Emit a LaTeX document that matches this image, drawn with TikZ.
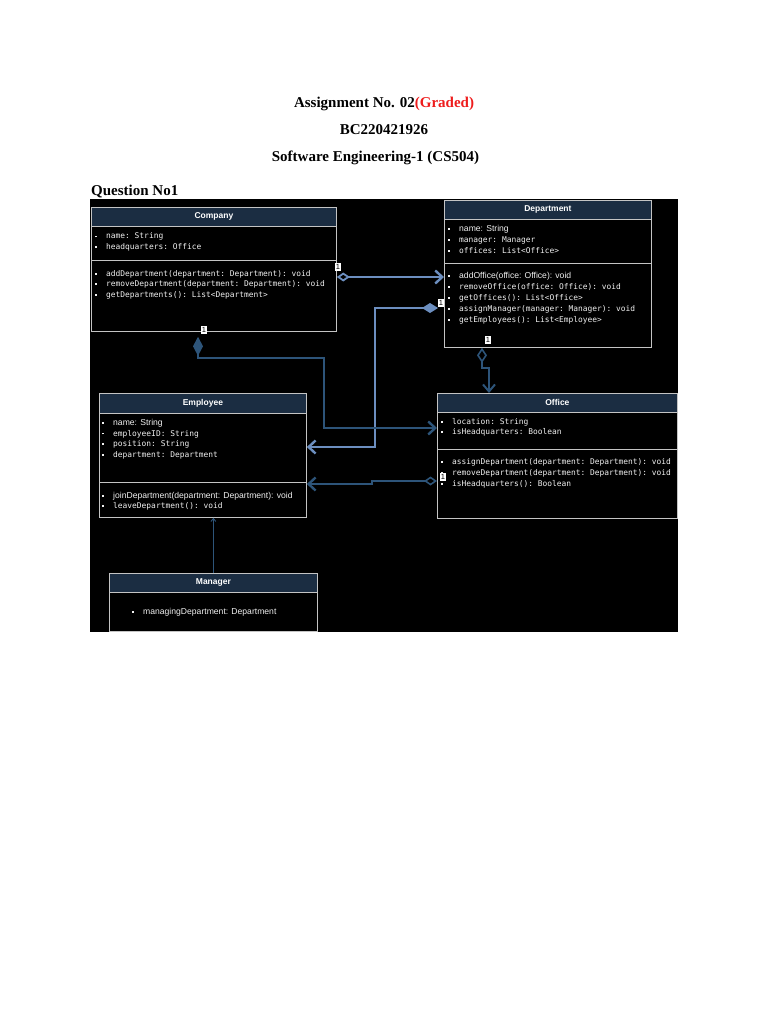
\documentclass[tikz,border=0pt]{standalone}
\usepackage{fontspec}
\setmainfont{Liberation Serif}
\setsansfont{Liberation Sans}
\setmonofont{DejaVu Sans Mono}
\usetikzlibrary{arrows.meta,positioning}

\definecolor{headblue}{HTML}{1B2D42}
\definecolor{linklight}{HTML}{6C8EBF}
\definecolor{linkdark}{HTML}{2D5479}
\definecolor{frameline}{HTML}{C4C4C4}
\definecolor{membertext}{HTML}{F0F0F0}
\definecolor{gradedred}{HTML}{EE1C1C}

% one line of a class compartment
\newcommand{\member}[1]{\makebox[11pt][l]{\raisebox{1.6pt}{\rule{1.7pt}{1.7pt}}}#1}
\newcommand{\sanspart}[1]{{\sffamily\fontsize{8.6}{10.5}\selectfont #1}}

\tikzset{
  classbox/.style={draw=frameline, line width=0.8pt, anchor=north west, inner sep=0pt},
  classhead/.style={classbox, fill=headblue, text=white,
    font=\sffamily\bfseries\fontsize{8.5}{10}\selectfont},
  members/.style={anchor=north west, align=left, inner sep=0pt, text=membertext,
    font=\ttfamily\fontsize{7.9}{10.5}\selectfont},
  divider/.style={draw=frameline, line width=0.8pt},
  mult/.style={fill=white, text=black, inner xsep=1pt, inner ysep=1.6pt,
    font=\sffamily\fontsize{7.5}{8}\selectfont},
  lightlink/.style={draw=linklight, line width=2.4pt},
  darklink/.style={draw=linkdark, line width=2.4pt},
  titletext/.style={inner sep=0pt, font=\bfseries\fontsize{15}{18}\selectfont},
}

\begin{document}
\begin{tikzpicture}[x=1pt, y=-1pt]
  \useasboundingbox[fill=white] (0,0) rectangle (768,1024);
  \node[titletext] (assignment) at (384,104) {Assignment No. 02\textcolor{gradedred}{(Graded)}};
  \node[titletext] (regno) at (384,130) {BC220421926};
  \node[titletext] (course) at (375.5,158) {Software Engineering-1 (CS504)};
  \node[titletext, anchor=west] (question) at (91,192) {Question No1};
  % diagram canvas
  \fill[black] (90,199) rectangle (678,632);

  % Company
  \node[classbox, minimum width=245pt, minimum height=124pt] (company) at (91,207) {};
  \node[classhead, minimum width=245pt, minimum height=19pt] (companyhead) at (company.north west) {Company};
  \draw[divider] (company.west |- 0,260) -- (company.east |- 0,260);
  \node[members] (companyattrs) at (95,232.7) {\member{name: String}\\
    \member{headquarters: Office}};
  \node[members] (companyops) at (95,270) {\member{addDepartment(department: Department): void}\\
    \member{removeDepartment(department: Department): void}\\
    \member{getDepartments(): List<Department>}};

  % Department
  \node[classbox, minimum width=207pt, minimum height=147pt] (department) at (444,200) {};
  \node[classhead, minimum width=207pt, minimum height=19pt] (departmenthead) at (department.north west) {Department};
  \draw[divider] (department.west |- 0,263) -- (department.east |- 0,263);
  \node[members, font=\ttfamily\fontsize{7.9}{11}\selectfont] (departmentattrs) at (448,225) {\member{\sanspart{name: String}}\\
    \member{manager: Manager}\\
    \member{offices: List<Office>}};
  \node[members, font=\ttfamily\fontsize{7.9}{11}\selectfont] (departmentops) at (448,272) {\member{\sanspart{addOffice(office: Office): void}}\\
    \member{removeOffice(office: Office): void}\\
    \member{getOffices(): List<Office>}\\
    \member{assignManager(manager: Manager): void}\\
    \member{getEmployees(): List<Employee>}};

  % Employee
  \node[classbox, minimum width=207pt, minimum height=124pt] (employee) at (99,393) {};
  \node[classhead, minimum width=207pt, minimum height=20pt] (employeehead) at (employee.north west) {Employee};
  \draw[divider] (employee.west |- 0,482) -- (employee.east |- 0,482);
  \node[members, font=\ttfamily\fontsize{7.9}{10.6}\selectfont] (employeeattrs) at (102,419) {\member{\sanspart{name: String}}\\
    \member{employeeID: String}\\
    \member{position: String}\\
    \member{department: Department}};
  \node[members, font=\ttfamily\fontsize{7.9}{10}\selectfont] (employeeops) at (102,492) {\member{\sanspart{joinDepartment(department: Department): void}}\\
    \member{leaveDepartment(): void}};

  % Office
  \node[classbox, minimum width=240pt, minimum height=125pt] (office) at (437,393) {};
  \node[classhead, minimum width=240pt, minimum height=19pt] (officehead) at (office.north west) {Office};
  \draw[divider] (office.west |- 0,449) -- (office.east |- 0,449);
  \node[members, font=\ttfamily\fontsize{7.9}{10}\selectfont] (officeattrs) at (441,418) {\member{location: String}\\
    \member{isHeadquarters: Boolean}};
  \node[members, font=\ttfamily\fontsize{7.9}{11}\selectfont] (officeops) at (441,458) {\member{assignDepartment(department: Department): void}\\
    \member{removeDepartment(department: Department): void}\\
    \member{isHeadquarters(): Boolean}};

  % Manager
  \node[classbox, minimum width=208pt, minimum height=58pt] (manager) at (109,573) {};
  \node[classhead, minimum width=208pt, minimum height=19pt] (managerhead) at (manager.north west) {Manager};
  \node[members] (managerattrs) at (132,608) {\member{\sanspart{managingDepartment: Department}}};

  % links
  \draw[lightlink, {Diamond[open, length=13pt, width=9pt, line width=1.8pt]}-{Straight Barb[length=7pt, width=13pt]}]
    (company.east |- 0,277) -- (department.west |- 0,277);
  \draw[lightlink, shorten <=6pt, {Diamond[length=16pt, width=10pt]}-{Straight Barb[length=7pt, width=13pt]}]
    (department.west |- 0,308) -| (375,447) -- (employee.east |- 0,447);
  \draw[darklink, shorten <=5pt, {Diamond[length=19pt, width=10pt]}-{Straight Barb[length=7pt, width=13pt]}]
    (company.south -| 198,0) |- (324,358) |- (office.west |- 0,428);
  \draw[darklink, line width=2pt, {Diamond[open, length=15pt, width=10pt, line width=1.6pt]}-{Straight Barb[length=7pt, width=12pt]}]
    (department.south -| 482,0) -- (482,368) -| (office.north -| 489,0);
  \draw[darklink, {Diamond[open, length=13pt, width=9pt, line width=1.6pt]}-{Straight Barb[length=7pt, width=13pt]}]
    (office.west |- 0,481) -- (372,481) -- (372,484) -- (employee.east |- 0,484);
  \draw[draw=linkdark, line width=0.9pt, -{Straight Barb[length=3pt, width=5pt]}]
    (manager.north) -- (manager.north |- employee.south);

  % multiplicities
  \node[mult] (multcompdept) at (338,267) {1};
  \node[mult] (multcompoffice) at (204,330) {1};
  \node[mult] (multdeptemp) at (441,303) {1};
  \node[mult] (multdeptoffice) at (488,340) {1};
  \node[mult] (multofficeemp) at (443,477) {1};
\end{tikzpicture}
\end{document}
